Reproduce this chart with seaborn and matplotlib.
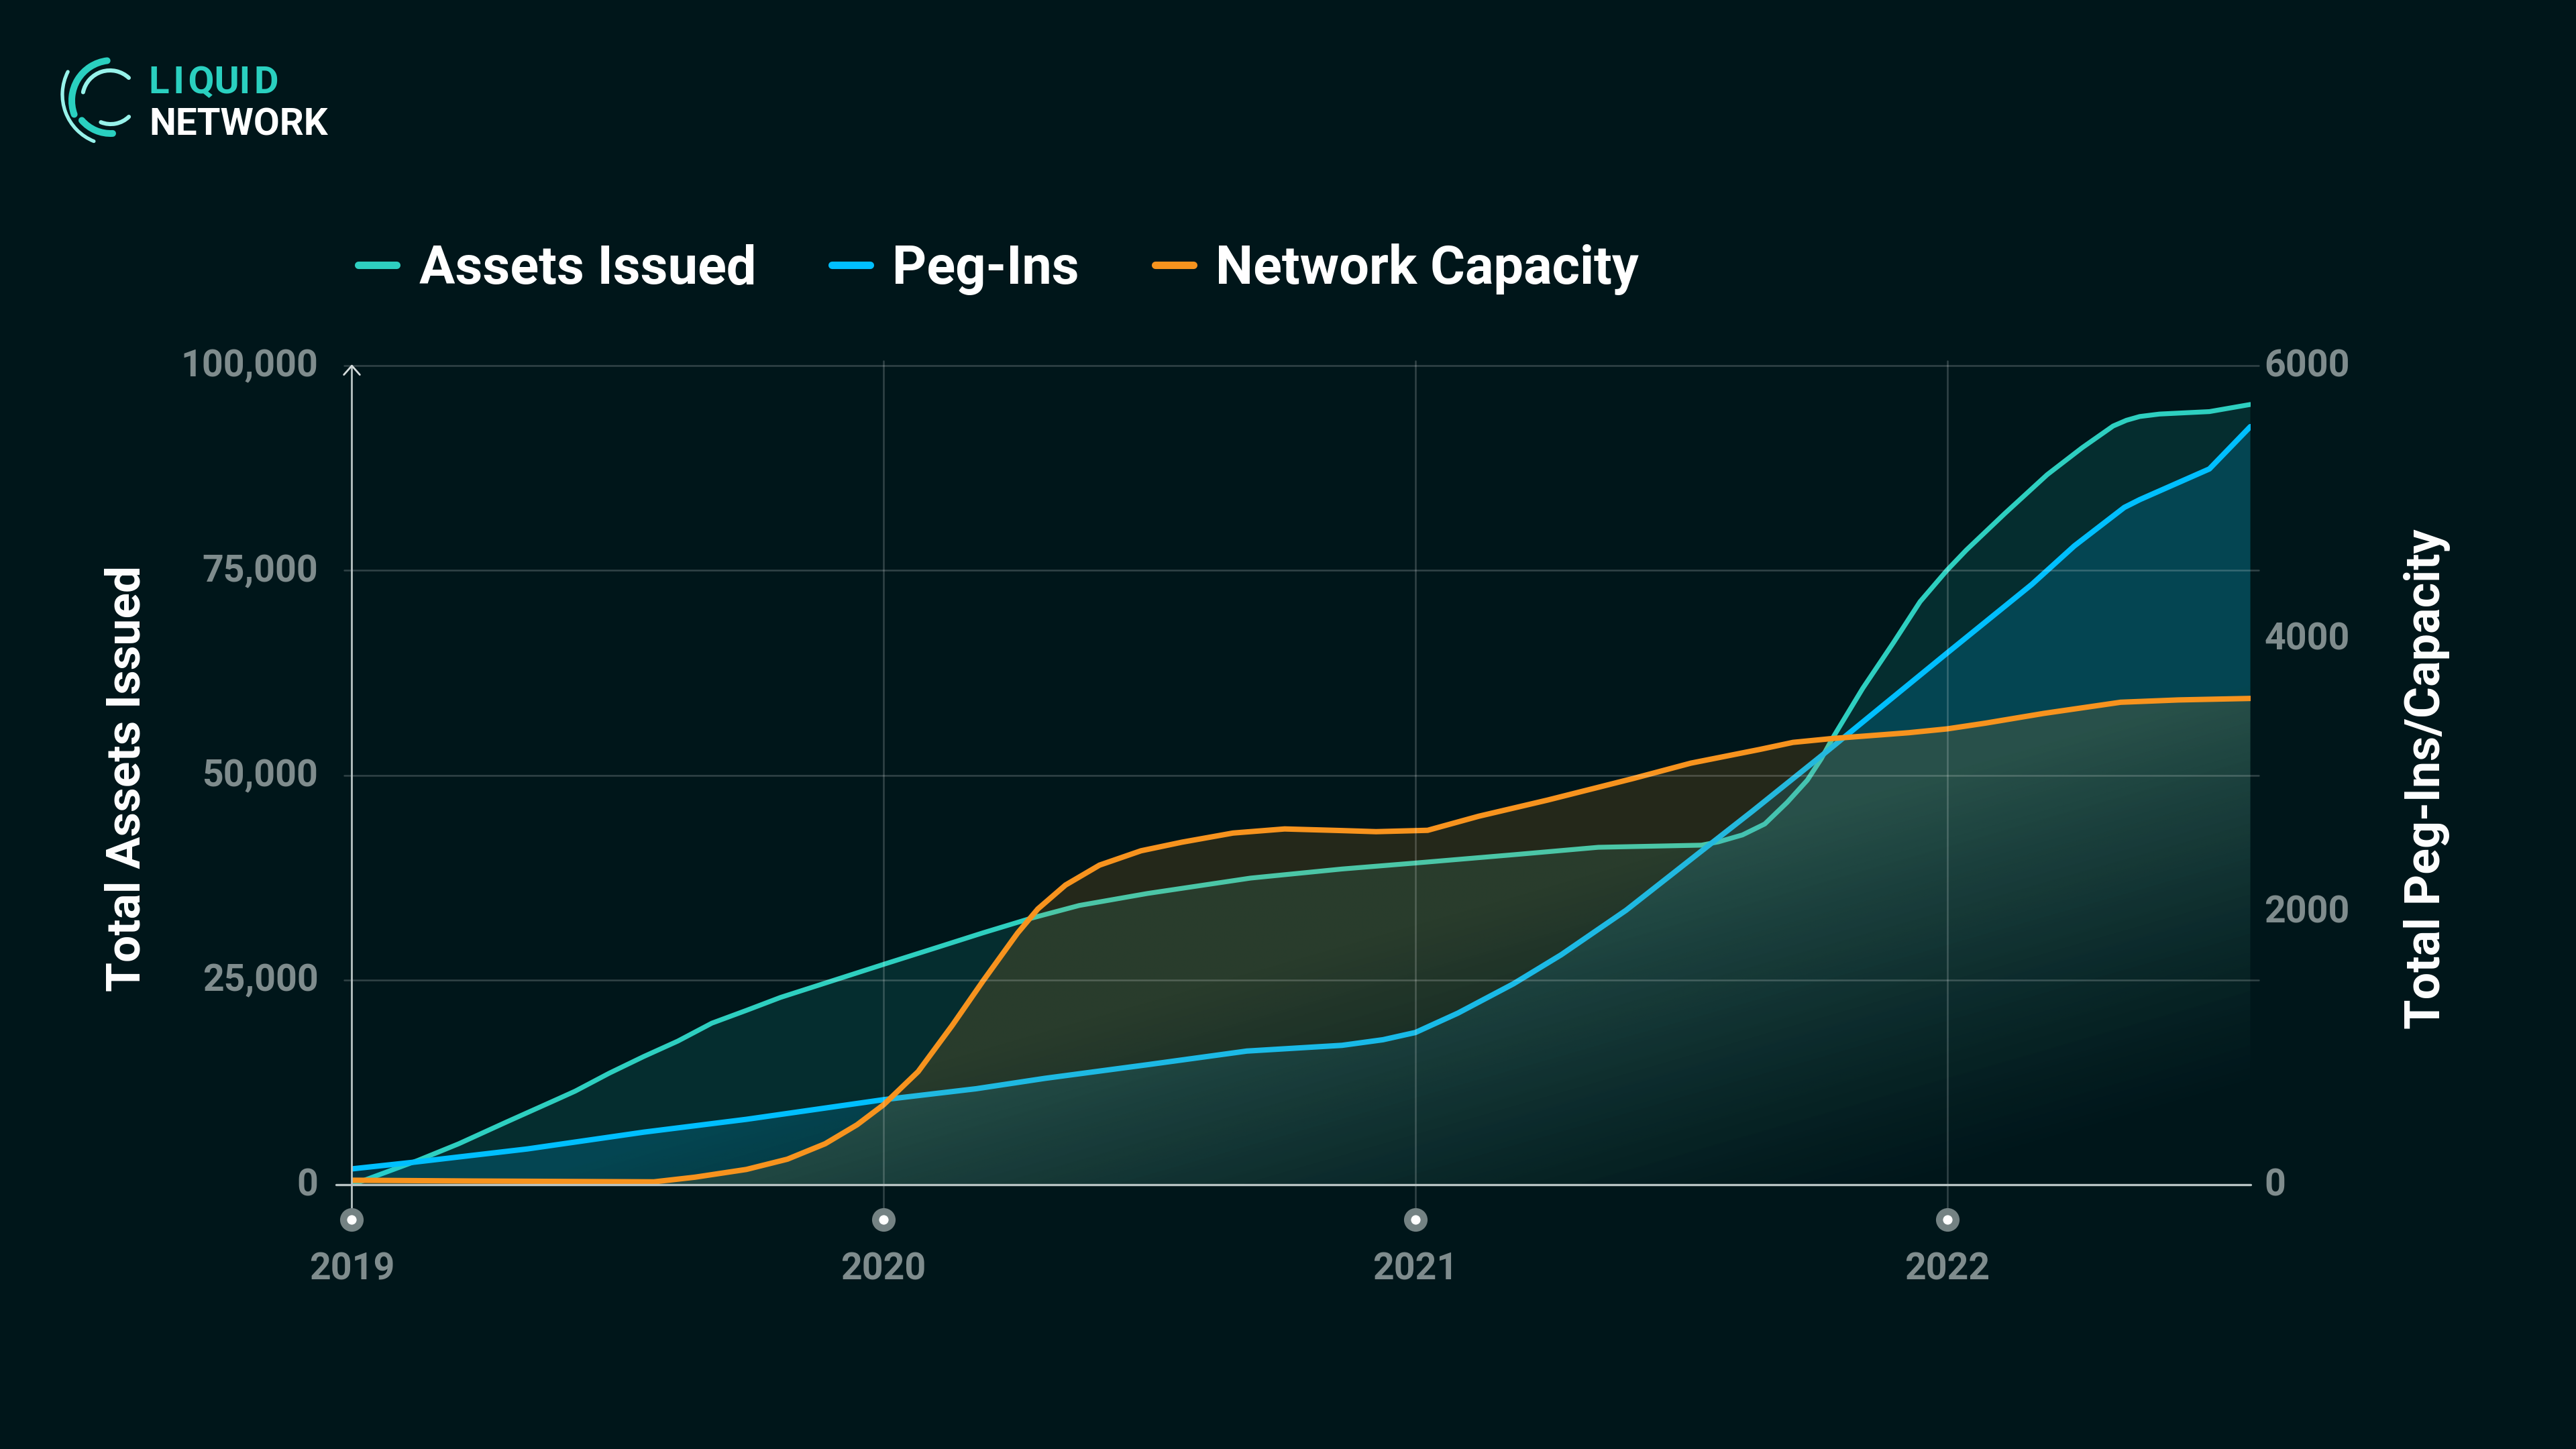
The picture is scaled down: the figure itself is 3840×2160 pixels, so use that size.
import matplotlib
matplotlib.use('Agg')
import matplotlib.pyplot as plt
from matplotlib.patches import Arc
from matplotlib.lines import Line2D
from matplotlib.ticker import FuncFormatter
from matplotlib.transforms import ScaledTranslation
import numpy as np
import seaborn as sns

BG = '#00161a'
TEAL = '#2ecfc0'
BLUE = '#00bfff'
ORANGE = '#f7931e'
GREY = '#7f8c8d'

assets_x = [2019.0, 2019.124, 2019.201, 2019.291, 2019.388, 2019.42, 2019.484, 2019.549, 2019.613, 2019.677,
            2019.742, 2019.806, 2019.903, 2020.0, 2020.11, 2020.187, 2020.278, 2020.368, 2020.496, 2020.69,
            2020.862, 2021.0, 2021.184, 2021.344, 2021.538, 2021.57, 2021.615, 2021.657, 2021.699, 2021.737,
            2021.763, 2021.786, 2021.841, 2021.899, 2021.949, 2022.0, 2022.036, 2022.109, 2022.188, 2022.254,
            2022.312, 2022.337, 2022.362, 2022.399, 2022.493, 2022.57]
assets_y = [0, 2977, 5014, 7678, 10500, 11440, 13630, 15670, 17550, 19740,
            21300, 22880, 24900, 26920, 29180, 30770, 32560, 34110, 35570, 37450,
            38560, 39290, 40300, 41210, 41470, 41880, 42720, 44060, 46690, 49410,
            52000, 54700, 60600, 66200, 71200, 75060, 77500, 82000, 86700, 90000,
            92640, 93340, 93800, 94100, 94400, 95270]

pegs_x = [2019.0, 2019.117, 2019.33, 2019.549, 2019.742, 2020.0, 2020.174, 2020.303, 2020.496, 2020.683,
          2020.862, 2020.939, 2021.0, 2021.08, 2021.184, 2021.274, 2021.396, 2021.531, 2021.634, 2021.768,
          2022.0, 2022.159, 2022.239, 2022.333, 2022.362, 2022.493, 2022.57]
pegs_y = [117, 166, 263, 386, 480, 624, 704, 780, 880, 980,
          1022, 1063, 1116, 1258, 1472, 1685, 2011, 2424, 2738, 3157,
          3896, 4398, 4680, 4962, 5019, 5244, 5554]

capacity_x = [2019.0, 2019.227, 2019.568, 2019.645, 2019.742, 2019.819, 2019.89, 2019.95, 2020.0, 2020.065,
              2020.129, 2020.187, 2020.252, 2020.29, 2020.342, 2020.406, 2020.484, 2020.561, 2020.657, 2020.754,
              2020.862, 2020.926, 2021.023, 2021.119, 2021.248, 2021.409, 2021.518, 2021.647, 2021.71, 2021.783,
              2021.928, 2022.0, 2022.072, 2022.181, 2022.326, 2022.435, 2022.57]
capacity_y = [34, 28, 22, 56, 113, 188, 301, 440, 587, 830,
              1168, 1494, 1845, 2021, 2196, 2342, 2447, 2510, 2577, 2607,
              2595, 2587, 2597, 2700, 2818, 2976, 3089, 3189, 3241, 3269,
              3312, 3340, 3382, 3453, 3535, 3552, 3563]

years = [2019, 2020, 2021, 2022]
left_ticks = [0, 25000, 50000, 75000, 100000]
right_ticks = [0, 2000, 4000, 6000]
series_names = ['Assets Issued', 'Peg-Ins', 'Network Capacity']

FONT = ['Roboto', 'DejaVu Sans']

sns.set_theme(style='dark', rc={'axes.facecolor': BG, 'figure.facecolor': BG})
plt.rcParams['font.family'] = FONT

fig = plt.figure(figsize=(3841 / 200, 2160 / 200), dpi=200)
ax = fig.add_axes([0.13655, 0.18230, 0.73680, 0.56530])
ax2 = ax.twinx()
ax_top = ax.twinx()  # grid and axis lines sit above every fill

x_end = 2022.57
ax.set_xlim(2019, x_end)
for a, top in ((ax, 100000), (ax2, 6000), (ax_top, 100000)):
    a.set_ylim(0, top)
    a.grid(False)
    for s in a.spines.values():
        s.set_visible(False)
ax2.patch.set_visible(False)
ax_top.patch.set_visible(False)
ax_top.tick_params(axis='y', right=False, labelright=False)


def gradient_fill(axis, xs, ys, color, alpha, zorder):
    # fill under the line, fading out towards bottom right
    poly = axis.fill_between(xs, 0, ys, color='none', linewidth=0)
    u, v = np.meshgrid(np.linspace(0, 1, 400), np.linspace(1, 0, 300))
    fade = np.clip(1.1 - 1.2 * u + 1.8 * v, 0, 1) ** 1.5
    img = np.zeros((300, 400, 4))
    img[..., :3] = matplotlib.colors.to_rgb(color)
    img[..., 3] = alpha * fade
    im = axis.imshow(img, extent=(0, 1, 0, 1), transform=axis.transAxes, aspect='auto',
                     interpolation='bilinear', zorder=zorder)
    im.set_clip_path(poly.get_paths()[0], transform=axis.transData)


gradient_fill(ax, assets_x, assets_y, TEAL, 0.13, 1)
gradient_fill(ax2, pegs_x, pegs_y, BLUE, 0.17, 1)
gradient_fill(ax2, capacity_x, capacity_y, ORANGE, 0.15, 3)

sns.lineplot(x=assets_x, y=assets_y, ax=ax, color=TEAL, linewidth=2.6, estimator=None, sort=False, zorder=2)
sns.lineplot(x=pegs_x, y=pegs_y, ax=ax2, color=BLUE, linewidth=2.9, estimator=None, sort=False, zorder=2)
sns.lineplot(x=capacity_x, y=capacity_y, ax=ax2, color=ORANGE, linewidth=2.9, estimator=None, sort=False, zorder=4)

ax.set_xlim(2019, x_end)
ax.set_ylim(0, 100000)
ax2.set_ylim(0, 6000)
ax_top.set_ylim(0, 100000)

# grid runs a bit past the plot area
grid_col = (1, 1, 1, 0.2)
for val in left_ticks[1:]:
    ax_top.plot([2018.985, x_end + 0.016], [val, val], color=grid_col, lw=0.9, clip_on=False)
for yr in years[1:]:
    ax_top.plot([yr, yr], [-4300, 100600], color=grid_col, lw=0.9, clip_on=False)
ax_top.plot([2018.97, x_end], [0, 0], color='#b9c4c4', lw=1.2, clip_on=False)
ax_top.plot([2019, 2019], [-4300, 100000], color='#b9c4c4', lw=1.0, clip_on=False)
ax_top.plot([2018.985, 2019, 2019.015], [98900, 100000, 98900], color='#d5dcdc', lw=1.0, clip_on=False)

# year markers under the axis
y_dot = [-4230] * len(years)
ax_top.scatter(years, y_dot, s=160, color='#748283', linewidth=0, clip_on=False, zorder=5)
ax_top.scatter(years, y_dot, s=26, color='white', linewidth=0, clip_on=False, zorder=6)
ax_top.set_yticks([])

ax.set_xticks(years)
ax.set_xticklabels([str(y) for y in years])
ax.set_yticks(left_ticks)
ax.yaxis.set_major_formatter(FuncFormatter(lambda v, _: f'{int(v):,}'))
ax2.set_yticks(right_ticks)
ax.tick_params(axis='x', length=0, pad=36, labelsize=20, labelcolor=GREY)
ax.tick_params(axis='y', length=0, pad=18, labelsize=20, labelcolor=GREY)
ax2.tick_params(axis='y', length=0, pad=7.5, labelsize=20, labelcolor=GREY)
nudge = ScaledTranslation(0, 4 / 200, fig.dpi_scale_trans)
for lab in ax.get_xticklabels():
    lab.set_fontweight('bold')
for lab in ax.get_yticklabels() + ax2.get_yticklabels():
    lab.set_fontweight('bold')
    lab.set_transform(lab.get_transform() + nudge)

fig.text(77 / 1568, 1 - 474 / 882, 'Total Assets Issued', rotation=90, color='white', fontsize=25.7,
         fontweight='bold', ha='center', va='center')
fig.text(1477 / 1568, 1 - 474 / 882, 'Total Peg-Ins/Capacity', rotation=90, color='white', fontsize=25.9,
         fontweight='bold', ha='center', va='center')

handles = [Line2D([], [], color=c, lw=4) for c in (TEAL, BLUE, ORANGE)]
fig.legend(handles, series_names, loc='center left', bbox_to_anchor=(218 / 1568, 1 - 164 / 882), ncol=3,
           frameon=False, labelcolor='white', handlelength=0.72, handletextpad=0.42,
           columnspacing=1.42, borderpad=0, borderaxespad=0, prop={'weight': 'bold', 'size': 28.6, 'family': FONT})

# logo, in pixel coordinates of the full image
logo = fig.add_axes([0, 0, 1, 1], facecolor='none')
logo.set_xlim(0, 3841)
logo.set_ylim(0, 2160)
logo.axis('off')
LIGHT = '#97f2ea'
for cx, cy, r, a1, a2, col, w in [(168, 141, 75, 153, 248, LIGHT, 1.9), (167, 150, 60, 97, 200, '#2ad0c0', 3.6),
                                  (165, 142, 57, 221, 273, '#2ad0c0', 3.6), (164, 146, 41, 47, 168, LIGHT, 2.2),
                                  (165, 146, 39, 248, 314, LIGHT, 2.2)]:
    logo.add_patch(Arc((cx, 2160 - cy), 2 * r, 2 * r, theta1=a1, theta2=a2, color=col, lw=w, capstyle='round'))
logo.text(222, 2160 - 139, 'L\u200aI\u200aQUI\u200aD', color='#2ad0c0', fontsize=20.3, fontweight='bold',
          ha='left', va='baseline')
logo.text(222, 2160 - 201, 'NETWORK', color='white', fontsize=20.3, fontweight='bold', ha='left', va='baseline')

fig.savefig('out.png', dpi=200, facecolor=BG)
